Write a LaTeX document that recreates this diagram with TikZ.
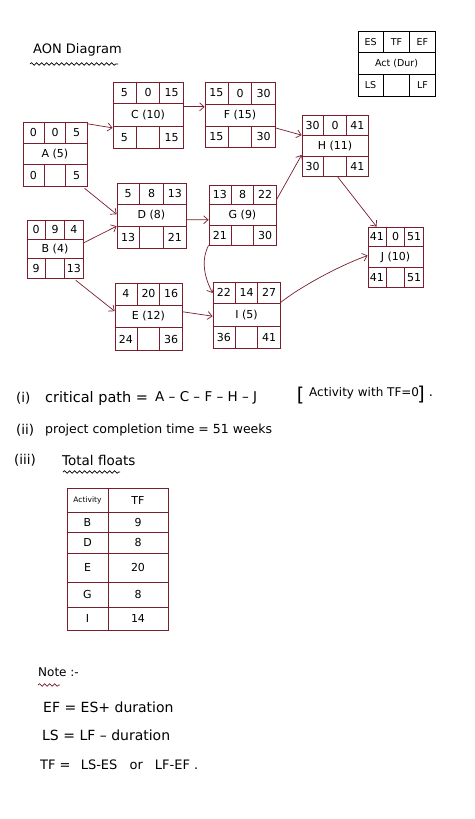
\documentclass[tikz,border=0pt]{standalone}
\usepackage{fontspec}
\setmainfont{DejaVu Sans}
\usetikzlibrary{calc,arrows.meta,decorations.pathmorphing}
\definecolor{mar}{HTML}{7A1E2E}
\tikzset{
 actbox/.style={draw=mar, line width=0.8pt, inner sep=0pt, rectangle},
 cell/.style={draw=mar, line width=0.8pt},
 cellt/.style={inner sep=0pt, font=\fontsize{11}{13}\selectfont, text=black},
 labt/.style={inner sep=0pt, font=\fontsize{11}{13}\selectfont},
 arr/.style={draw=mar, line width=0.7pt, -{Straight Barb[length=4.5pt,width=8pt]}},
 txt/.style={anchor=west, inner sep=0pt, font=\fontsize{13.5}{15}\selectfont},
 wavy/.style={decorate, decoration={snake, amplitude=1.3pt, segment length=5pt}, line width=0.7pt},
 tab/.style={draw=mar, line width=0.8pt},
 tabt/.style={inner sep=0pt, font=\fontsize{11}{13}\selectfont},
}
\newcommand\act[5]{%
 \node[actbox, minimum width=#3pt, minimum height=#4pt] (#1) at (#2) {};
 \draw[cell] ($(#1.north west)!1/3!(#1.south west)$) -- ($(#1.north east)!1/3!(#1.south east)$);
 \draw[cell] ($(#1.north west)!2/3!(#1.south west)$) -- ($(#1.north east)!2/3!(#1.south east)$);
 \draw[cell] ($(#1.north west)!1/3!(#1.north east)$) -- ($(#1.north west)!1/3!(#1.south east)$);
 \draw[cell] ($(#1.north east)!1/3!(#1.north west)$) -- ($(#1.north east)!1/3!(#1.south west)$);
 \draw[cell] ($(#1.south west)!1/3!(#1.south east)$) -- ($(#1.south west)!1/3!(#1.north east)$);
 \draw[cell] ($(#1.south east)!1/3!(#1.south west)$) -- ($(#1.south east)!1/3!(#1.north west)$);
 \node[labt] (#1-lab) at (#1) {#5};
}
\newcommand\vals[6]{%
 \node[cellt] (#1-es) at ($(#1.north west)!1/6!(#1.south east)$) {#2};
 \node[cellt] (#1-tf) at ($(#1.north)!1/6!(#1.south)$) {#3};
 \node[cellt] (#1-ef) at ($(#1.north east)!1/6!(#1.south west)$) {#4};
 \node[cellt] (#1-ls) at ($(#1.south west)!1/6!(#1.north east)$) {#5};
 \node[cellt] (#1-lf) at ($(#1.south east)!1/6!(#1.north west)$) {#6};
}
\begin{document}
\begin{tikzpicture}[x=1pt,y=-1pt]
\useasboundingbox[fill=white] (0,0) rectangle (474,819);

% title
\node[txt, font=\fontsize{13}{15}\selectfont] (title) at (33,50) {AON Diagram};
\coordinate (tu1) at (30,64); \coordinate (tu2) at (118,64);
\draw[wavy] (tu1) -- (tu2);

% legend
\begin{scope}[actbox/.append style={draw=black}, cell/.append style={draw=black}, cellt/.append style={font=\fontsize{9.5}{11}\selectfont}, labt/.append style={font=\fontsize{9.5}{11}\selectfont}]
\act{K}{396.5,63.5}{77}{65}{Act (Dur)}
\vals{K}{ES}{TF}{EF}{LS}{LF}
\end{scope}

% activity nodes
\act{A}{55,154}{64}{64}{A (5)}      \vals{A}{0}{0}{5}{0}{5}
\act{C}{148,115}{70}{66}{C (10)}    \vals{C}{5}{0}{15}{5}{15}
\act{F}{240,115}{70}{65}{F (15)}    \vals{F}{15}{0}{30}{15}{30}
\act{H}{335,146}{66}{61}{H (11)}    \vals{H}{30}{0}{41}{30}{41}
\act{D}{151.5,215.5}{69}{65}{D (8)} \vals{D}{5}{8}{13}{13}{21}
\act{G}{242.5,215}{67}{60}{G (9)}   \vals{G}{13}{8}{22}{21}{30}
\act{B}{55,249}{56}{58}{B (4)}      \vals{B}{0}{9}{4}{9}{13}
\act{J}{395.5,257}{55}{60}{J (10)}  \vals{J}{41}{0}{51}{41}{51}
\act{E}{148.5,316.5}{67}{67}{E (12)} \vals{E}{4}{20}{16}{24}{36}
\act{I}{246.5,315}{67}{66}{I (5)}   \vals{I}{22}{14}{27}{36}{41}

% connectors
\draw[arr] (A.43) -- (C.200);
\draw[arr] (C.13) -- (F.167);
\draw[arr] (F.-20) -- (H.162);
\draw[arr, shorten <=3pt] (A.-50) -- (D.178);
\draw[arr] (B.12) -- (D.197);
\draw[arr, shorten <=3pt] (B.-58) -- (E.171);
\draw[arr] (D.-7) -- (G.188);
\draw[arr] (G.24) -- (H.195);
\draw[arr] (G.south west) .. controls +(-8,15) and +(-8,-15) .. (I.147);
\draw[arr] (E.8) -- (I.182);
\draw[arr] (H.-85) -- (J.122);
\draw[arr] (I.20) .. controls +(20,-16) and +(-28,10) .. (J.177);

% answers
\node[txt] (r1a) at (16,398) {(i)};
\node[txt, font=\fontsize{14.5}{16}\selectfont] (r1b) at (45,398) {critical path =};
\node[txt, font=\fontsize{13.5}{16}\selectfont] (r1c) at (155,398) {A – C – F – H – J};
\node[inner sep=0pt, font=\fontsize{19}{19}\selectfont] (br1) at (300.5,396) {[};
\node[txt, font=\fontsize{12}{14}\selectfont] (act) at (309,393) {Activity with TF=0};
\node[inner sep=0pt, font=\fontsize{19}{19}\selectfont] (br2) at (421,395) {]};
\node[inner sep=0pt, font=\fontsize{13}{15}\selectfont] (dot1) at (431,396) {.};

\node[txt] (r2a) at (16,430) {(ii)};
\node[txt, font=\fontsize{12.5}{15}\selectfont] (r2b) at (45,430) {project completion time = 51 weeks};

\node[txt] (r3a) at (14,460) {(iii)};
\node[txt, font=\fontsize{13.5}{16}\selectfont] (r3b) at (62,460) {Total floats};
\coordinate (fu1) at (63,472); \coordinate (fu2) at (120,472);
\draw[wavy] (fu1) -- (fu2);

% table
\draw[tab] (67,488) rectangle (168,630);
\draw[tab] (108,488) -- (108,630);
\foreach \yy in {512,532,553,582,607} \draw[tab] (67,\yy) -- (168,\yy);
\node[tabt, font=\fontsize{7.5}{9}\selectfont] (th1) at (87.5,500) {Activity};
\node[tabt] (th2) at (138,500) {TF};
\node[tabt] (tb1) at (87.5,522) {B};   \node[tabt] (tv1) at (138,522) {9};
\node[tabt] (tb2) at (87.5,542.5) {D}; \node[tabt] (tv2) at (138,542.5) {8};
\node[tabt] (tb3) at (87.5,567.5) {E}; \node[tabt] (tv3) at (138,567.5) {20};
\node[tabt] (tb4) at (87.5,594.5) {G}; \node[tabt] (tv4) at (138,594.5) {8};
\node[tabt] (tb5) at (87.5,618.5) {I}; \node[tabt] (tv5) at (138,618.5) {14};

% note
\node[txt, font=\fontsize{12}{14}\selectfont] (note) at (38,672) {Note :-};
\coordinate (nu1) at (38,685); \coordinate (nu2) at (60,685);
\draw[wavy, draw=mar] (nu1) -- (nu2);
\node[txt, font=\fontsize{14}{16}\selectfont] (n1) at (43,707) {EF = ES+ duration};
\node[txt, font=\fontsize{14}{16}\selectfont] (n2) at (42,735) {LS = LF – duration};
\node[txt, font=\fontsize{13}{16}\selectfont] (n3) at (40,765) {TF = \hspace{6pt}LS-ES\hspace{8pt} or \hspace{8pt}LF-EF .};
\end{tikzpicture}
\end{document}
